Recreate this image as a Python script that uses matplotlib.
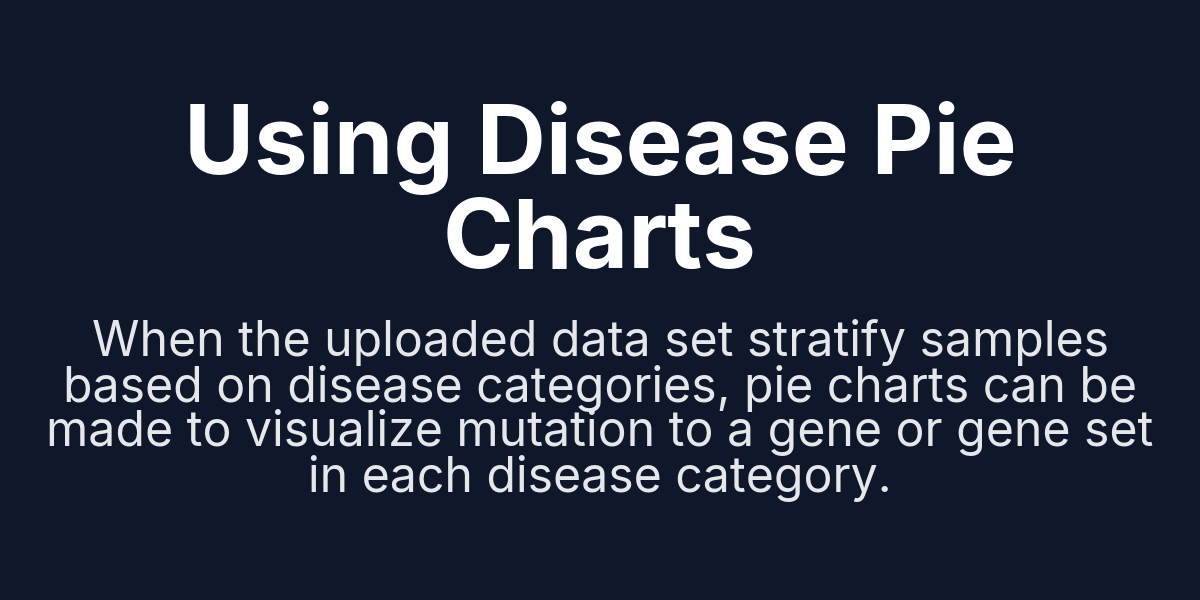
import matplotlib
matplotlib.use("Agg")
import matplotlib.pyplot as plt

title_lines = ["Using Disease Pie", "Charts"]
subtitle_lines = [
    "When the uploaded data set stratify samples",
    "based on disease categories, pie charts can be",
    "made to visualize mutation to a gene or gene set",
    "in each disease category.",
]

bg = "#0f172a"
fig = plt.figure(figsize=(12, 6), dpi=100, facecolor=bg)

title_y = [148, 243]
for line, y in zip(title_lines, title_y):
    fig.text(0.5, 1 - y / 600, line, ha="center", va="center", color="white",
             fontsize=69, fontweight="bold", family=["Inter", "DejaVu Sans"])

sub_y = [343, 388, 433, 478]
for line, y in zip(subtitle_lines, sub_y):
    fig.text(0.5, 1 - y / 600, line, ha="center", va="center", color="#e5e7eb",
             fontsize=34.7, family=["Inter", "DejaVu Sans"])

fig.savefig("out.png", dpi=100, facecolor=bg)
